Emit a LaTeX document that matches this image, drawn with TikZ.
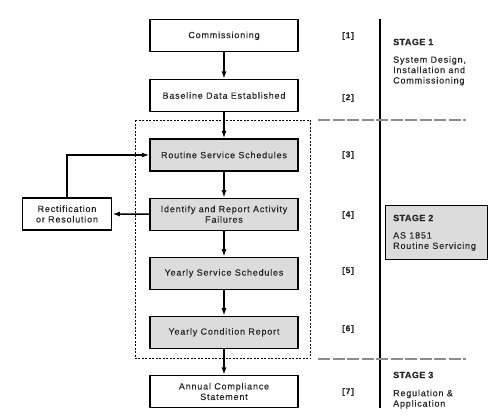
\documentclass[tikz,border=0pt]{standalone}
\usepackage{fontspec}
\setmainfont[LetterSpace=9,FakeBold=0.35]{Liberation Sans}
\newfontfamily\boldsp[LetterSpace=5,FakeBold=0.4]{Liberation Sans Bold}
\usetikzlibrary{arrows.meta}
\definecolor{boxgray}{HTML}{DCDCDC}
\definecolor{txt}{HTML}{262626}
\definecolor{dashgray}{HTML}{8C8C8C}
\begin{document}
\begin{tikzpicture}[x=1pt,y=-1pt,
  every node/.style={text=txt,font=\fontsize{9}{10.5}\selectfont},
  mainbox/.style={draw=black,line width=1.3pt,minimum width=148pt,minimum height=32pt,inner sep=0pt,align=center},
  graybox/.style={mainbox,fill=boxgray},
  arr/.style={-{Latex[length=7.5pt,width=5pt]},line width=1.4pt},
  lbl/.style={font=\bfseries\fontsize{8.5}{10}\selectfont},
  stage/.style={font=\fontsize{9}{10}\selectfont,anchor=west,inner sep=0pt},
  stagetxt/.style={anchor=north west,inner sep=0pt,align=left,font=\fontsize{9}{10.4}\selectfont}
]
\useasboundingbox (0,0) rectangle (500,418);
% dashed group
\draw[line width=0.6pt,dash pattern=on 2pt off 1.5pt] (135,120) rectangle (310.7,358.5);
% boxes
\node[mainbox] (c1) at (224,35.8) {Commissioning};
\node[mainbox] (c2) at (224,95.5) {Baseline Data Established};
\node[graybox] (c3) at (224,155) {Routine Service Schedules};
\node[graybox] (c4) at (224,214.2) {Identify and Report Activity\\Failures};
\node[graybox] (c5) at (224,273.3) {Yearly Service Schedules};
\node[graybox] (c6) at (224,332.3) {Yearly Condition Report};
\node[mainbox] (c7) at (224,391.5) {Annual Compliance\\Statement};
\node[mainbox,minimum width=89.5pt] (rr) at (67,214) {Rectification\\or Resolution};
% arrows
\draw[arr] (c1) -- (c2);
\draw[arr] (c2) -- (c3);
\draw[arr] (c3) -- (c4);
\draw[arr] (c4) -- (c5);
\draw[arr] (c5) -- (c6);
\draw[arr] (c6) -- (c7);
\draw[arr] (c4.west) -- (rr.east);
\coordinate (k1) at (rr.north |- c3.west);
\draw[arr] (rr.north) -- (k1) -- (c3.west);
% labels
\node[lbl] (l1) at (348,36) {[1]};
\node[lbl] (l2) at (348,98) {[2]};
\node[lbl] (l3) at (348,155) {[3]};
\node[lbl] (l4) at (348,215) {[4]};
\node[lbl] (l5) at (348,271) {[5]};
\node[lbl] (l6) at (348,329) {[6]};
\node[lbl] (l7) at (348,392) {[7]};
% divider
\coordinate (vt) at (380,19);
\coordinate (vb) at (380,408);
\draw[line width=2.2pt] (vt) -- (vb);
\coordinate (d1a) at (318,120); \coordinate (d1b) at (466,120);
\coordinate (d2a) at (318,359); \coordinate (d2b) at (466,359);
\draw[dashgray,line width=1.3pt,dash pattern=on 12pt off 2.5pt] (d1a) -- (d1b);
\draw[dashgray,line width=1.3pt,dash pattern=on 12pt off 2.5pt] (d2a) -- (d2b);
% stages
\node[stage] (s1) at (393,42) {\boldsp STAGE 1};
\node[stagetxt] (s1t) at (393,56) {System Design,\\Installation and\\Commissioning};
\node[draw=black,line width=1.3pt,fill=boxgray,minimum width=102pt,minimum height=54pt,inner sep=0pt] (s2box) at (436.7,232.3) {};
\node[stage] (s2) at (393,218) {\boldsp STAGE 2};
\node[stagetxt] (s2t) at (393,232) {AS 1851\\Routine Servicing};
\node[stage] (s3) at (393,375) {\boldsp STAGE 3};
\node[stagetxt] (s3t) at (393,389.5) {Regulation \&\\Application};
\end{tikzpicture}
\end{document}
